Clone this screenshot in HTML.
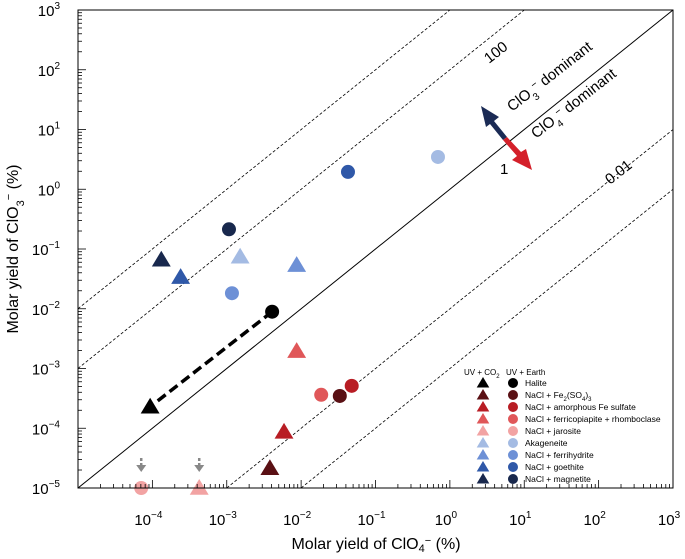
<!DOCTYPE html>
<html><head><meta charset="utf-8"><style>
html,body{margin:0;padding:0;background:#fff;width:685px;height:559px;overflow:hidden;}
svg{display:block;font-family:"Liberation Sans",Arial,sans-serif;}
</style></head><body>
<svg id="chart" width="685" height="559" viewBox="0 0 685 559">
<g id="grid"></g>
<g id="marks"></g>
<g id="axes"></g>
<g id="legend"></g>
</svg>
<script>
const xLogMin=-5, xLogMax=3, yLogMin=-5, yLogMax=3;
const xTickExp=[-4,-3,-2,-1,0,1,2,3];
const yTickExp=[-5,-4,-3,-2,-1,0,1,2,3];
const ratioExps=[3,2,0,-2,-3];
const seriesNames=["Halite","NaCl + Fe2(SO4)3","NaCl + amorphous Fe sulfate","NaCl + ferricopiapite + rhomboclase","NaCl + jarosite","Akageneite","NaCl + ferrihydrite","NaCl + goethite","NaCl + magnetite"];
const seriesColors=["#000000","#5a1014","#b81d24","#e05759","#f2a3a3","#a4bbe3","#6d90d6","#2f58a8","#18284d"];
const triX=[-4.03,-2.42,-2.23,-2.06,-3.37,-2.82,-2.06,-3.62,-3.88];
const triY=[-3.64,-4.67,-4.06,-2.71,-5.0,-1.13,-1.27,-1.47,-1.18];
const cirX=[-2.39,-1.48,-1.32,-1.73,-4.15,-0.16,-2.93,-1.37,-2.97];
const cirY=[-2.05,-3.46,-3.29,-3.44,-5.0,0.54,-1.74,0.29,-0.67];
const upperLimitX=[-4.15,-3.37];
const upperLimitY=[-5.0,-5.0];
const L=78,R=673,T=10,B=488;
const sx=v=>L+(v-xLogMin)/(xLogMax-xLogMin)*(R-L);
const sy=v=>B-(v-yLogMin)/(yLogMax-yLogMin)*(B-T);
const NS="http://www.w3.org/2000/svg";
function mk(tag,attrs,parent){const e=document.createElementNS(NS,tag);for(const k in attrs)e.setAttribute(k,attrs[k]);parent.appendChild(e);return e;}
const grid=document.getElementById('grid'),marks=document.getElementById('marks'),axes=document.getElementById('axes'),legend=document.getElementById('legend');
ratioExps.forEach(r=>{
 const xa=Math.max(xLogMin,yLogMin-r), xb=Math.min(xLogMax,yLogMax-r);
 const l=mk('line',{x1:sx(xa),y1:sy(xa+r),x2:sx(xb),y2:sy(xb+r),stroke:'#000','stroke-width':r===0?1:0.8,'stroke-dasharray':r===0?'none':'3,2'},grid);
 
 
});
[["100",489,64,38],["1",500,174,0],["0.01",610,185,38]].forEach(a=>{
 const t=mk('text',{x:a[1],y:a[2],'font-size':15,transform:`rotate(-${a[3]} ${a[1]} ${a[2]})`},axes);t.textContent=a[0];
 
 
});
let t1=mk('text',{x:512,y:112,'font-size':15,transform:'rotate(-38 512 112)'},axes);
t1.innerHTML='ClO<tspan baseline-shift="sub" font-size="10">3</tspan><tspan baseline-shift="super" font-size="10">−</tspan> dominant';


let t2=mk('text',{x:536,y:139,'font-size':15,transform:'rotate(-38 536 139)'},axes);
t2.innerHTML='ClO<tspan baseline-shift="sub" font-size="10">4</tspan><tspan baseline-shift="super" font-size="10">−</tspan> dominant';


let a1=mk('path',{d:'M507,137 L494,121 L499,117 L481,106 L486,127 L490,124 L503,140 z',fill:'#1b2b55'},axes);


let a2=mk('path',{d:'M503,140 L517,156 L512,160 L532,170 L526,149 L521,152 L507,137 z',fill:'#d4202a'},axes);


let hx1=sx(cirX[0]),hy1=sy(cirY[0]),hx2=sx(triX[0]),hy2=sy(triY[0]);
let dx=hx2-hx1,dy=hy2-hy1,dl=Math.hypot(dx,dy);
let ex=hx2-dx/dl*8,ey=hy2-dy/dl*8;
let hl=mk('line',{x1:hx1,y1:hy1,x2:ex,y2:ey,stroke:'#000','stroke-width':3.5,'stroke-dasharray':'10,5'},marks);


upperLimitX.forEach((v,i)=>{
 const x=sx(v),y=sy(upperLimitY[i]);
 const g=mk('g',{},marks);
 
 
 mk('line',{x1:x,y1:y-30,x2:x,y2:y-22,stroke:'#888','stroke-width':2.5,'stroke-dasharray':'3,2'},g);
 mk('path',{d:`M${x-5},${y-23} L${x+5},${y-23} L${x},${y-16} z`,fill:'#888'},g);
});
function tri(x,y,s,c,p){return mk('path',{d:`M${x},${y-s} L${x+s*1.05},${y+s*0.75} L${x-s*1.05},${y+s*0.75} z`,fill:c},p);}
seriesNames.forEach((n,i)=>{
 const c=mk('circle',{cx:sx(cirX[i]),cy:sy(cirY[i]),r:7,fill:seriesColors[i]},marks);
 
 
 const t=tri(sx(triX[i]),sy(triY[i]),9,seriesColors[i],marks);
 
 
});
let fr=mk('rect',{x:L,y:T,width:R-L,height:B-T,fill:'none',stroke:'#000','stroke-width':1},axes);


for(let e=xLogMin;e<xLogMax;e++){for(let m=1;m<10;m++){const x=sx(e+Math.log10(m));const len=m===1?8:4;
 const tk=mk('line',{x1:x,y1:B,x2:x,y2:B-len,stroke:'#000','stroke-width':0.8},axes);
 
 }}
for(let e=yLogMin;e<yLogMax;e++){for(let m=1;m<10;m++){const y=sy(e+Math.log10(m));const len=m===1?8:4;
 const tk=mk('line',{x1:L,y1:y,x2:L+len,y2:y,stroke:'#000','stroke-width':0.8},axes);
 
 }}
xTickExp.forEach(e=>{const t=mk('text',{x:sx(e)-4,y:525,'font-size':15,'text-anchor':'middle'},axes);
 t.innerHTML='10<tspan dy="-7" font-size="10">'+(e<0?'−'+(-e):e)+'</tspan>';
 
 });
yTickExp.forEach(e=>{const t=mk('text',{x:60,y:sy(e)+6,'font-size':15,'text-anchor':'end'},axes);
 t.innerHTML='10<tspan dy="-7" font-size="10">'+(e<0?'−'+(-e):e)+'</tspan>';
 
 });
let xt=mk('text',{x:376,y:549,'font-size':16,'text-anchor':'middle'},axes);
xt.innerHTML='Molar yield of ClO<tspan baseline-shift="-3" font-size="11">4</tspan><tspan baseline-shift="5" font-size="11">−</tspan> (%)';


let yt=mk('text',{x:18,y:249,'font-size':16,'text-anchor':'middle',transform:'rotate(-90 18 249)'},axes);
yt.innerHTML='Molar yield of ClO<tspan baseline-shift="sub" font-size="11">3</tspan><tspan baseline-shift="super" font-size="11">−</tspan> (%)';


let h1=mk('text',{x:464,y:375,'font-size':8},legend);h1.innerHTML='UV + CO<tspan baseline-shift="sub" font-size="6">2</tspan>';


let h2=mk('text',{x:506,y:375,'font-size':8},legend);h2.textContent='UV + Earth';


seriesNames.forEach((n,i)=>{
 const y=383+i*12;
 const g=mk('g',{},legend);
 
 
 tri(483,y,6,seriesColors[i],g);
 mk('circle',{cx:513,cy:y,r:5,fill:seriesColors[i]},g);
 const t=mk('text',{x:525,y:y+3,'font-size':8.5},g);
 t.innerHTML=n.replace('Fe2(SO4)3','Fe<tspan baseline-shift="sub" font-size="6">2</tspan>(SO<tspan baseline-shift="sub" font-size="6">4</tspan>)<tspan baseline-shift="sub" font-size="6">3</tspan>');
});
</script>
</body></html>
